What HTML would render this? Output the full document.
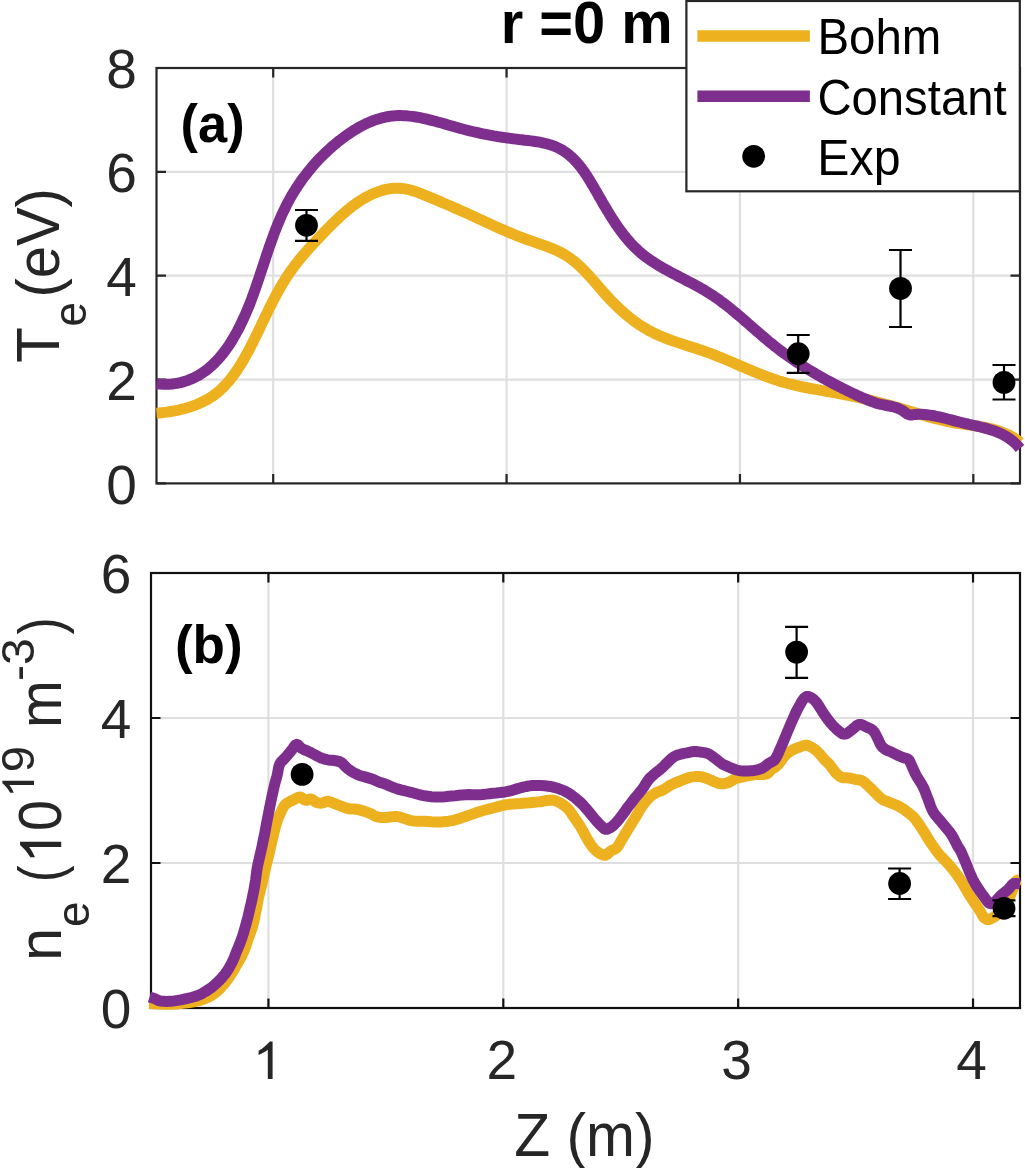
<!DOCTYPE html><html><head><meta charset="utf-8"><style>html,body{margin:0;padding:0;background:#fff;overflow:hidden}svg{display:block;will-change:transform}</style></head><body>
<svg width="1025" height="1168" viewBox="0 0 1025 1168" font-family="'Liberation Sans', sans-serif">
<rect width="1025" height="1168" fill="#fff"/>
<defs><clipPath id="ca"><rect x="156.5" y="68.0" width="863.5" height="415.4"/></clipPath>
<clipPath id="cb"><rect x="151.0" y="573.0" width="869.0" height="435.0"/></clipPath></defs>
<path d="M273.19,68.00V483.40M506.57,68.00V483.40M739.95,68.00V483.40M973.32,68.00V483.40M156.50,379.55H1020.00M156.50,275.70H1020.00M156.50,171.85H1020.00" stroke="#DFDFDF" stroke-width="2.2" fill="none"/>
<path d="M273.19,483.40v-9.50M273.19,68.00v9.50M506.57,483.40v-9.50M506.57,68.00v9.50M739.95,483.40v-9.50M739.95,68.00v9.50M973.32,483.40v-9.50M973.32,68.00v9.50M156.50,483.40h9.50M1020.00,483.40h-9.50M156.50,379.55h9.50M1020.00,379.55h-9.50M156.50,275.70h9.50M1020.00,275.70h-9.50M156.50,171.85h9.50M1020.00,171.85h-9.50M156.50,68.00h9.50M1020.00,68.00h-9.50" stroke="#262626" stroke-width="2.2" fill="none"/>
<rect x="156.50" y="68.00" width="863.50" height="415.40" stroke="#262626" stroke-width="2.2" fill="none"/>
<text x="136.90" y="503.80" font-size="55" fill="#262626" text-anchor="end">0</text>
<text x="136.90" y="399.95" font-size="55" fill="#262626" text-anchor="end">2</text>
<text x="136.90" y="296.10" font-size="55" fill="#262626" text-anchor="end">4</text>
<text x="136.90" y="192.25" font-size="55" fill="#262626" text-anchor="end">6</text>
<text x="136.90" y="88.40" font-size="55" fill="#262626" text-anchor="end">8</text>
<g fill="none" stroke-width="11" stroke-linejoin="round" stroke-linecap="butt">
<polyline points="156.5,413.2 159.1,413.0 161.6,412.7 164.2,412.4 166.8,412.1 169.4,411.7 171.9,411.3 174.5,410.8 177.1,410.3 179.6,409.8 182.2,409.1 184.7,408.5 187.2,407.8 189.7,407.0 192.2,406.2 194.6,405.3 197.0,404.4 199.4,403.4 201.7,402.3 204.0,401.2 206.3,400.0 208.5,398.7 210.6,397.4 212.8,396.0 214.8,394.5 216.8,393.0 218.8,391.4 220.6,389.7 222.5,388.0 224.3,386.2 226.0,384.3 227.7,382.4 229.4,380.5 231.0,378.5 232.6,376.4 234.1,374.4 235.6,372.3 237.1,370.1 238.5,367.9 239.9,365.7 241.3,363.5 242.6,361.2 244.0,359.0 245.2,356.7 246.5,354.4 247.8,352.1 249.0,349.8 250.2,347.5 251.4,345.2 252.6,342.8 253.8,340.5 254.9,338.2 256.1,335.8 257.2,333.5 258.3,331.2 259.5,328.8 260.6,326.5 261.7,324.2 262.8,321.8 263.9,319.5 265.0,317.1 266.2,314.8 267.3,312.5 268.4,310.2 269.5,307.9 270.7,305.6 271.8,303.3 273.0,301.0 274.2,298.7 275.4,296.4 276.6,294.2 277.8,291.9 279.1,289.7 280.3,287.5 281.6,285.2 282.9,283.0 284.3,280.9 285.6,278.7 287.0,276.5 288.5,274.4 289.9,272.3 291.4,270.2 292.9,268.1 294.4,266.0 296.0,264.0 297.6,261.9 299.2,259.9 300.9,257.9 302.5,255.9 304.2,253.9 305.9,252.0 307.6,250.0 309.3,248.1 311.1,246.1 312.9,244.2 314.6,242.3 316.4,240.4 318.2,238.5 320.0,236.6 321.8,234.7 323.6,232.9 325.4,231.0 327.2,229.1 329.0,227.3 330.9,225.5 332.7,223.6 334.5,221.8 336.4,220.0 338.3,218.3 340.1,216.5 342.0,214.8 344.0,213.1 345.9,211.4 347.9,209.7 349.9,208.1 351.9,206.5 354.0,205.0 356.1,203.5 358.2,202.0 360.4,200.6 362.6,199.2 364.9,197.9 367.2,196.6 369.5,195.4 371.9,194.3 374.2,193.2 376.6,192.3 379.1,191.4 381.5,190.6 384.0,189.9 386.5,189.3 389.0,188.8 391.5,188.5 394.0,188.3 396.5,188.2 399.0,188.2 401.5,188.4 404.0,188.7 406.5,189.2 409.0,189.7 411.5,190.4 414.0,191.1 416.5,191.9 419.0,192.8 421.5,193.8 423.9,194.8 426.4,195.8 428.8,196.8 431.3,197.8 433.7,198.8 436.1,199.9 438.5,200.9 440.9,201.9 443.3,203.0 445.7,204.0 448.1,205.0 450.5,206.0 452.8,207.1 455.2,208.1 457.5,209.1 459.9,210.2 462.2,211.2 464.6,212.3 466.9,213.3 469.2,214.4 471.5,215.5 473.9,216.5 476.2,217.6 478.5,218.7 480.8,219.7 483.1,220.8 485.5,221.9 487.8,223.0 490.1,224.0 492.4,225.1 494.8,226.2 497.1,227.2 499.4,228.3 501.8,229.3 504.2,230.3 506.5,231.4 508.9,232.4 511.3,233.4 513.7,234.4 516.1,235.3 518.5,236.3 520.9,237.2 523.4,238.2 525.8,239.1 528.3,240.0 530.8,240.8 533.3,241.7 535.8,242.6 538.3,243.4 540.8,244.3 543.3,245.2 545.8,246.1 548.3,247.0 550.7,248.0 553.1,248.9 555.5,250.0 557.9,251.1 560.2,252.2 562.4,253.4 564.7,254.6 566.8,256.0 569.0,257.4 571.0,258.9 573.0,260.4 575.0,262.0 577.0,263.6 578.9,265.3 580.7,267.1 582.6,268.9 584.4,270.7 586.2,272.6 587.9,274.5 589.7,276.4 591.4,278.3 593.1,280.3 594.9,282.2 596.6,284.2 598.3,286.2 600.0,288.2 601.7,290.1 603.4,292.1 605.1,294.0 606.9,296.0 608.7,297.9 610.4,299.8 612.2,301.6 614.0,303.5 615.9,305.3 617.7,307.1 619.6,308.9 621.5,310.6 623.4,312.3 625.3,314.0 627.3,315.6 629.2,317.2 631.2,318.8 633.2,320.4 635.3,321.9 637.4,323.3 639.4,324.8 641.6,326.2 643.7,327.5 645.9,328.8 648.1,330.1 650.3,331.3 652.6,332.4 654.9,333.6 657.2,334.6 659.5,335.7 661.9,336.7 664.3,337.6 666.7,338.6 669.1,339.5 671.5,340.4 674.0,341.2 676.5,342.1 678.9,342.9 681.4,343.7 683.9,344.6 686.4,345.4 688.9,346.2 691.4,347.0 693.9,347.8 696.4,348.6 698.9,349.4 701.4,350.2 703.8,351.1 706.3,351.9 708.7,352.8 711.2,353.7 713.6,354.6 716.0,355.6 718.4,356.6 720.8,357.5 723.2,358.5 725.6,359.5 728.0,360.5 730.4,361.5 732.8,362.5 735.1,363.6 737.5,364.6 739.8,365.6 742.2,366.6 744.6,367.6 746.9,368.7 749.3,369.7 751.7,370.7 754.0,371.7 756.4,372.6 758.8,373.6 761.2,374.5 763.5,375.5 765.9,376.4 768.3,377.3 770.7,378.1 773.2,379.0 775.6,379.8 778.0,380.6 780.5,381.4 783.0,382.1 785.4,382.8 787.9,383.5 790.4,384.1 792.9,384.7 795.5,385.3 798.0,385.9 800.5,386.5 803.1,387.0 805.6,387.5 808.2,388.0 810.8,388.5 813.3,389.0 815.9,389.4 818.5,389.9 821.1,390.4 823.7,390.8 826.2,391.3 828.8,391.7 831.4,392.2 834.0,392.6 836.5,393.1 839.1,393.6 841.7,394.0 844.2,394.5 846.8,395.0 849.3,395.6 851.8,396.1 854.4,396.6 856.9,397.2 859.4,397.7 861.9,398.3 864.4,398.9 867.0,399.5 869.5,400.1 872.0,400.7 874.5,401.4 877.0,402.0 879.4,402.6 881.9,403.3 884.4,404.0 886.9,404.6 889.4,405.3 891.9,406.0 894.4,406.7 896.8,407.4 899.3,408.1 901.8,408.9 904.3,409.6 906.7,410.3 909.2,411.1 911.7,411.8 914.2,412.5 916.7,413.3 919.1,414.0 921.6,414.8 924.1,415.5 926.6,416.2 929.1,416.9 931.6,417.6 934.1,418.3 936.6,418.9 939.1,419.5 941.7,420.1 944.2,420.7 946.8,421.3 949.3,421.8 951.9,422.3 954.4,422.8 957.0,423.2 959.6,423.6 962.2,424.0 964.8,424.4 967.3,424.7 969.9,425.1 972.5,425.4 975.1,425.8 977.7,426.2 980.2,426.6 982.8,427.0 985.3,427.5 987.8,428.0 990.3,428.6 992.8,429.2 995.2,429.8 997.6,430.6 1000.0,431.3 1002.4,432.2 1004.7,433.2 1007.0,434.2 1009.3,435.3 1011.5,436.5 1013.7,437.8 1015.9,439.3 1018.0,440.8 1020.0,442.5" stroke="#EDB120"/>
<polyline points="156.5,383.8 159.7,384.1 162.9,384.2 165.9,384.3 169.0,384.2 171.9,384.0 174.8,383.6 177.6,383.2 180.4,382.6 183.1,381.9 185.7,381.1 188.3,380.2 190.9,379.2 193.3,378.1 195.7,376.9 198.1,375.7 200.4,374.3 202.6,372.8 204.8,371.3 207.0,369.7 209.1,368.0 211.1,366.2 213.1,364.4 215.0,362.5 216.9,360.5 218.8,358.5 220.6,356.4 222.3,354.3 224.0,352.1 225.7,349.9 227.3,347.6 228.9,345.3 230.5,342.9 232.0,340.5 233.4,338.1 234.8,335.6 236.2,333.1 237.6,330.6 238.9,328.1 240.2,325.6 241.4,323.0 242.6,320.5 243.8,317.9 245.0,315.3 246.1,312.7 247.2,310.1 248.3,307.5 249.4,304.8 250.4,302.2 251.4,299.6 252.4,296.9 253.4,294.3 254.3,291.6 255.3,288.9 256.2,286.3 257.1,283.6 258.0,280.9 259.0,278.2 259.8,275.5 260.7,272.9 261.6,270.2 262.5,267.5 263.4,264.8 264.3,262.1 265.2,259.5 266.0,256.8 266.9,254.1 267.8,251.4 268.7,248.8 269.6,246.1 270.6,243.5 271.5,240.8 272.5,238.2 273.4,235.5 274.4,232.9 275.4,230.3 276.4,227.7 277.4,225.1 278.5,222.5 279.6,220.0 280.7,217.4 281.8,214.9 283.0,212.3 284.2,209.8 285.4,207.3 286.6,204.8 287.9,202.4 289.3,199.9 290.6,197.5 292.0,195.1 293.4,192.7 294.9,190.3 296.4,188.0 297.9,185.6 299.5,183.3 301.1,181.0 302.7,178.7 304.4,176.5 306.1,174.3 307.8,172.1 309.6,169.9 311.4,167.7 313.2,165.6 315.0,163.5 316.9,161.4 318.9,159.3 320.8,157.3 322.8,155.3 324.8,153.3 326.9,151.4 329.0,149.5 331.1,147.6 333.2,145.7 335.4,143.9 337.6,142.1 339.8,140.3 342.1,138.6 344.4,136.9 346.7,135.2 349.1,133.6 351.4,132.0 353.8,130.4 356.3,129.0 358.7,127.5 361.2,126.2 363.7,124.9 366.2,123.6 368.8,122.5 371.4,121.4 373.9,120.4 376.5,119.5 379.2,118.7 381.8,117.9 384.5,117.3 387.2,116.7 389.9,116.3 392.6,115.9 395.3,115.7 398.0,115.6 400.8,115.6 403.5,115.7 406.3,115.8 409.1,116.1 411.9,116.4 414.6,116.8 417.4,117.2 420.2,117.7 423.0,118.3 425.8,118.9 428.6,119.6 431.4,120.3 434.2,121.0 437.0,121.8 439.8,122.5 442.6,123.3 445.4,124.1 448.1,124.9 450.9,125.7 453.6,126.5 456.3,127.3 459.0,128.1 461.7,128.8 464.4,129.5 467.1,130.2 469.8,130.9 472.4,131.5 475.1,132.1 477.7,132.7 480.4,133.3 483.0,133.9 485.7,134.4 488.3,134.9 491.0,135.4 493.7,135.9 496.4,136.3 499.1,136.8 501.9,137.2 504.7,137.6 507.4,138.0 510.3,138.4 513.1,138.8 516.0,139.1 518.9,139.5 521.8,139.8 524.8,140.2 527.8,140.5 530.8,140.9 533.7,141.3 536.7,141.7 539.6,142.2 542.5,142.8 545.4,143.5 548.2,144.2 550.9,145.0 553.5,145.9 556.1,146.9 558.6,148.1 561.0,149.3 563.3,150.7 565.5,152.2 567.6,153.7 569.7,155.4 571.6,157.2 573.6,159.0 575.4,160.9 577.2,162.9 579.0,165.0 580.7,167.1 582.3,169.3 584.0,171.6 585.5,173.9 587.1,176.2 588.6,178.6 590.1,181.0 591.5,183.4 593.0,185.9 594.4,188.4 595.9,190.8 597.3,193.3 598.7,195.8 600.2,198.3 601.6,200.8 603.0,203.3 604.5,205.8 606.0,208.2 607.4,210.7 608.9,213.1 610.4,215.6 611.9,218.0 613.5,220.4 615.0,222.7 616.6,225.1 618.2,227.4 619.9,229.7 621.5,231.9 623.2,234.1 624.9,236.3 626.7,238.5 628.5,240.6 630.3,242.7 632.2,244.7 634.1,246.7 636.1,248.6 638.1,250.5 640.1,252.3 642.2,254.1 644.4,255.8 646.5,257.5 648.8,259.1 651.1,260.7 653.4,262.2 655.7,263.7 658.1,265.2 660.5,266.6 662.9,268.0 665.4,269.4 667.9,270.7 670.3,272.1 672.8,273.4 675.4,274.7 677.9,276.0 680.4,277.3 683.0,278.6 685.5,280.0 688.0,281.3 690.6,282.6 693.1,283.9 695.6,285.3 698.1,286.6 700.5,288.0 703.0,289.4 705.4,290.8 707.8,292.3 710.2,293.8 712.6,295.3 714.9,296.9 717.2,298.5 719.5,300.1 721.7,301.8 724.0,303.5 726.2,305.2 728.4,306.9 730.5,308.6 732.7,310.4 734.9,312.2 737.0,314.0 739.1,315.8 741.3,317.6 743.4,319.4 745.5,321.3 747.6,323.1 749.7,324.9 751.8,326.8 753.9,328.6 756.0,330.5 758.1,332.3 760.3,334.1 762.4,336.0 764.5,337.8 766.7,339.6 768.8,341.4 771.0,343.2 773.2,344.9 775.3,346.7 777.6,348.4 779.8,350.1 782.0,351.8 784.3,353.4 786.6,355.1 788.9,356.7 791.2,358.3 793.5,359.9 795.8,361.5 798.2,363.0 800.6,364.6 802.9,366.1 805.3,367.6 807.7,369.1 810.1,370.6 812.5,372.0 815.0,373.4 817.4,374.9 819.9,376.3 822.3,377.6 824.8,379.0 827.2,380.4 829.7,381.7 832.2,383.0 834.7,384.3 837.2,385.6 839.7,386.9 842.2,388.2 844.7,389.4 847.2,390.7 849.7,391.9 852.2,393.1 854.8,394.3 857.3,395.5 859.8,396.6 862.4,397.7 865.0,398.8 867.5,399.9 870.1,401.0 872.8,401.9 875.5,402.9 878.2,403.7 880.9,404.4 883.7,404.9 886.5,405.5 889.3,406.0 892.1,406.5 894.8,407.2 897.5,408.1 900.1,409.2 902.5,410.6 904.9,412.3 907.2,413.9 909.7,414.9 912.4,414.9 915.3,414.4 918.2,414.2 921.0,414.2 923.9,414.4 926.7,414.7 929.5,415.1 932.2,415.5 935.0,416.0 937.7,416.6 940.5,417.2 943.2,417.8 945.9,418.5 948.6,419.2 951.3,419.9 954.0,420.6 956.8,421.3 959.5,422.0 962.2,422.7 964.9,423.4 967.7,424.0 970.4,424.7 973.2,425.3 975.9,425.9 978.7,426.5 981.4,427.2 984.1,427.9 986.8,428.6 989.5,429.4 992.1,430.2 994.8,431.1 997.3,432.1 999.9,433.2 1002.3,434.4 1004.8,435.7 1007.2,437.1 1009.5,438.6 1011.7,440.3 1013.9,442.1 1016.0,444.0 1018.1,446.2 1020.0,448.5" stroke="#7E2F8E"/>
</g>
<path d="M306.50,210.00V240.90M295.00,210.00h23M295.00,240.90h23" stroke="#000" stroke-width="2.2" fill="none"/>
<circle cx="306.50" cy="225.30" r="11.4" fill="#000"/>
<path d="M798.20,335.00V372.90M786.70,335.00h23M786.70,372.90h23" stroke="#000" stroke-width="2.2" fill="none"/>
<circle cx="798.20" cy="353.70" r="11.4" fill="#000"/>
<path d="M900.50,250.00V327.00M889.00,250.00h23M889.00,327.00h23" stroke="#000" stroke-width="2.2" fill="none"/>
<circle cx="900.50" cy="288.40" r="11.4" fill="#000"/>
<path d="M1004.00,365.00V399.50M992.50,365.00h23M992.50,399.50h23" stroke="#000" stroke-width="2.2" fill="none"/>
<circle cx="1004.00" cy="382.40" r="11.4" fill="#000"/>
<path d="M268.43,573.00V1008.00M503.30,573.00V1008.00M738.16,573.00V1008.00M973.03,573.00V1008.00M151.00,863.00H1020.00M151.00,718.00H1020.00" stroke="#DFDFDF" stroke-width="2.2" fill="none"/>
<path d="M268.43,1008.00v-9.50M268.43,573.00v9.50M503.30,1008.00v-9.50M503.30,573.00v9.50M738.16,1008.00v-9.50M738.16,573.00v9.50M973.03,1008.00v-9.50M973.03,573.00v9.50M151.00,1008.00h9.50M1020.00,1008.00h-9.50M151.00,863.00h9.50M1020.00,863.00h-9.50M151.00,718.00h9.50M1020.00,718.00h-9.50M151.00,573.00h9.50M1020.00,573.00h-9.50" stroke="#111" stroke-width="2.2" fill="none"/>
<rect x="151.00" y="573.00" width="869.00" height="435.00" stroke="#111" stroke-width="2.2" fill="none"/>
<text x="131.40" y="1028.40" font-size="55" fill="#262626" text-anchor="end">0</text>
<text x="131.40" y="883.40" font-size="55" fill="#262626" text-anchor="end">2</text>
<text x="131.40" y="738.40" font-size="55" fill="#262626" text-anchor="end">4</text>
<text x="131.40" y="593.40" font-size="55" fill="#262626" text-anchor="end">6</text>
<path transform="translate(258.60,1078.90) scale(1.0000)" d="M9.2,0H14V-37.4H11.2C8.7,-34.5 4.5,-30.5 0,-28.1V-23.9C3.5,-25.4 7,-27.4 9.2,-29.2Z" fill="#262626"/>
<text x="501.80" y="1078.90" font-size="55" fill="#262626" text-anchor="middle">2</text>
<text x="736.66" y="1078.90" font-size="55" fill="#262626" text-anchor="middle">3</text>
<text x="971.53" y="1078.90" font-size="55" fill="#262626" text-anchor="middle">4</text>
<g fill="none" stroke-width="11" stroke-linejoin="round" stroke-linecap="butt">
<polyline points="149.0,1003.6 154.2,1003.8 159.4,1004.1 164.6,1004.3 170.0,1004.3 176.3,1003.9 182.9,1003.3 189.3,1002.5 195.0,1001.5 198.5,1000.7 201.8,999.7 204.7,998.7 207.5,997.5 209.6,996.5 211.5,995.4 213.3,994.2 215.0,993.0 216.3,992.0 217.5,990.9 218.7,989.8 220.0,988.5 221.9,986.4 224.0,984.1 226.0,981.6 228.0,979.0 230.1,975.9 232.1,972.7 234.1,969.4 236.0,966.0 238.0,962.6 240.0,959.1 241.9,955.6 243.6,952.0 245.0,948.5 246.2,945.0 247.3,941.5 248.5,938.0 249.7,934.6 250.9,931.3 252.1,928.0 253.1,924.6 253.9,921.2 254.7,917.8 255.3,914.4 256.0,911.0 256.7,907.6 257.3,904.1 257.9,900.7 258.6,897.3 259.4,894.0 260.2,890.8 261.1,887.5 262.0,884.0 263.0,879.6 264.0,874.9 265.0,870.3 266.0,866.0 266.8,862.9 267.5,860.0 268.2,857.1 269.0,854.0 270.0,849.7 271.0,845.2 272.1,840.5 273.2,836.0 274.2,831.8 275.3,827.5 276.4,823.5 277.5,820.0 278.2,818.0 278.9,816.3 279.7,814.7 280.5,813.0 281.5,810.8 282.6,808.5 283.9,806.3 285.4,804.4 287.5,802.8 289.9,801.5 292.4,800.3 294.6,799.3 296.1,798.5 297.4,797.7 298.8,797.1 300.1,796.9 301.5,797.4 302.8,798.5 304.2,799.7 305.6,800.3 306.9,800.2 308.3,799.7 309.7,799.1 311.0,799.0 312.4,799.6 313.7,800.6 315.1,801.6 316.5,802.4 317.9,802.8 319.2,803.1 320.6,803.2 322.0,803.1 323.3,802.7 324.6,802.1 326.0,801.6 327.4,801.3 329.3,801.6 331.4,802.3 333.5,803.2 335.6,804.0 337.7,804.8 339.8,805.7 341.9,806.5 343.8,807.2 345.2,807.7 346.6,808.1 347.9,808.5 349.3,808.8 350.9,809.0 352.7,809.0 354.4,809.0 356.1,809.2 357.8,809.5 359.5,809.9 361.2,810.4 362.9,810.9 364.6,811.4 366.4,812.0 368.1,812.6 369.8,813.3 371.5,814.1 373.2,815.1 374.9,816.0 376.6,816.7 378.3,817.1 380.1,817.4 381.9,817.5 383.7,817.6 385.3,817.5 386.8,817.4 388.4,817.2 390.0,817.0 391.7,816.8 393.5,816.6 395.3,816.4 397.3,816.5 400.4,817.2 403.9,818.4 407.5,819.7 411.0,820.6 414.4,821.0 417.8,821.2 421.2,821.2 424.6,821.3 428.0,821.5 431.4,821.8 434.9,822.0 438.3,822.0 441.7,821.9 445.2,821.6 448.6,821.2 452.0,820.6 455.4,819.8 458.8,818.8 462.2,817.6 465.6,816.5 469.0,815.3 472.4,814.1 475.9,812.8 479.3,811.7 482.7,810.7 486.1,809.8 489.5,808.9 492.9,808.0 496.3,807.1 499.7,806.1 503.2,805.3 506.6,804.6 510.0,804.2 513.3,803.9 516.7,803.7 520.0,803.5 523.2,803.2 526.5,803.0 529.6,802.8 532.5,802.5 534.5,802.3 536.2,802.1 538.0,801.9 540.0,801.7 543.2,801.2 546.7,800.5 550.2,800.1 553.7,800.3 557.3,801.5 560.9,803.4 564.4,805.7 567.3,808.1 569.3,810.2 571.0,812.6 572.5,815.0 574.1,817.4 575.8,819.9 577.6,822.4 579.3,824.9 581.0,827.6 582.7,830.6 584.4,833.8 586.1,836.9 587.8,839.9 589.4,842.5 591.1,845.1 592.8,847.4 594.6,849.5 596.3,851.0 598.1,852.3 599.8,853.4 601.5,854.2 602.6,854.7 603.6,855.1 604.6,855.3 605.6,855.2 606.9,854.5 608.3,853.3 609.6,851.9 611.0,850.8 612.4,850.1 613.8,849.6 615.2,849.0 616.5,848.1 618.0,846.3 619.3,844.1 620.6,841.6 622.0,839.2 623.7,836.5 625.4,833.6 627.1,830.7 628.8,827.9 630.5,825.2 632.2,822.4 633.9,819.7 635.6,817.0 637.3,814.2 638.9,811.3 640.6,808.4 642.4,805.8 644.1,803.6 645.8,801.4 647.5,799.4 649.3,797.6 650.9,796.2 652.6,794.9 654.4,793.8 656.1,792.8 657.8,792.0 659.5,791.4 661.2,790.8 662.9,790.0 664.7,788.9 666.5,787.7 668.2,786.5 669.8,785.5 670.8,784.9 671.7,784.5 672.7,784.1 673.7,783.6 675.3,782.9 677.0,782.2 678.8,781.5 680.5,780.8 682.2,780.1 683.9,779.4 685.6,778.7 687.3,778.1 689.0,777.6 690.7,777.2 692.4,776.9 694.1,776.7 695.8,776.6 697.6,776.5 699.3,776.5 701.0,776.7 702.7,777.1 704.4,777.6 706.1,778.2 707.8,778.8 709.5,779.5 711.2,780.3 712.9,781.1 714.6,781.8 716.3,782.4 718.0,783.1 719.8,783.6 721.5,783.8 723.2,783.8 724.9,783.5 726.6,783.1 728.3,782.5 730.0,781.7 731.7,780.7 733.4,779.7 735.1,778.8 736.7,778.2 738.4,777.8 740.1,777.4 742.0,777.0 745.1,776.3 748.6,775.6 752.2,775.0 755.6,774.5 758.5,774.4 761.4,774.5 764.2,774.5 766.5,774.0 768.0,773.1 769.1,772.0 770.3,770.7 771.5,769.5 773.0,768.4 774.6,767.5 776.1,766.4 777.7,765.1 779.6,762.8 781.5,760.2 783.4,757.4 785.4,755.1 787.2,753.5 789.2,752.1 791.1,750.8 793.1,749.7 795.0,748.8 797.0,747.9 799.0,747.2 800.8,746.6 802.2,746.1 803.5,745.6 804.9,745.3 806.2,745.2 807.7,745.5 809.3,746.1 810.9,746.9 812.4,747.8 813.8,748.7 815.2,749.7 816.5,750.8 817.8,752.0 819.3,753.6 820.8,755.4 822.4,757.2 823.9,759.0 825.4,760.5 827.0,762.0 828.5,763.5 830.0,765.1 831.4,766.9 832.7,768.9 834.1,770.8 835.5,772.5 836.9,773.9 838.4,775.3 839.9,776.4 841.5,777.3 843.1,777.7 844.8,777.8 846.6,777.8 848.3,777.9 850.0,778.2 851.7,778.5 853.4,778.9 855.1,779.3 856.8,779.6 858.6,779.8 860.3,780.2 862.0,780.8 863.8,781.9 865.5,783.2 867.1,784.8 868.8,786.3 870.5,788.0 872.2,789.7 873.9,791.5 875.6,793.2 877.3,794.9 878.9,796.5 880.6,798.1 882.4,799.4 884.1,800.3 885.8,801.0 887.6,801.6 889.3,802.3 891.0,803.0 892.7,803.6 894.4,804.3 896.1,805.0 897.8,805.8 899.5,806.7 901.2,807.7 902.9,808.7 904.7,809.9 906.5,811.3 908.2,812.6 909.8,813.9 910.9,814.8 912.0,815.6 913.0,816.5 914.1,817.6 916.0,820.0 918.1,823.0 920.3,826.2 922.3,829.3 924.2,832.2 926.0,835.2 927.7,838.1 929.6,841.0 931.6,844.0 933.7,847.1 935.8,850.0 937.8,852.7 939.4,854.6 940.9,856.3 942.5,857.9 944.0,859.5 945.5,861.1 946.9,862.6 948.4,864.1 950.0,865.9 952.3,868.7 954.7,871.8 957.1,875.1 959.5,878.5 961.9,882.2 964.1,886.1 966.4,890.0 968.7,893.9 971.1,897.6 973.6,901.4 976.1,905.0 978.5,908.5 980.5,911.8 982.3,915.2 984.3,918.0 986.6,919.5 989.3,919.4 992.2,918.1 995.3,916.2 998.0,914.0 1000.9,911.1 1003.5,907.5 1005.9,903.6 1008.0,900.0 1009.5,897.2 1010.8,894.4 1011.9,891.6 1013.0,889.0 1013.8,886.8 1014.4,884.5 1015.1,882.5 1016.0,881.0 1016.9,880.4 1017.9,880.1 1019.0,879.9 1020.0,879.6" stroke="#EDB120"/>
<polyline points="149.5,997.0 150.8,997.4 152.1,997.8 153.4,998.2 154.6,998.6 155.7,999.1 156.7,999.7 157.7,1000.2 158.7,1000.6 159.6,1000.8 160.5,1001.0 161.4,1001.1 162.5,1001.2 164.4,1001.3 166.6,1001.4 168.9,1001.3 171.3,1001.2 174.3,1000.9 177.5,1000.4 180.8,999.8 184.1,999.1 187.6,998.3 191.2,997.5 194.7,996.5 197.8,995.5 199.8,994.7 201.6,993.8 203.2,992.8 205.0,991.8 207.1,990.5 209.1,989.2 211.3,987.7 213.4,986.0 216.3,983.4 219.3,980.5 222.2,977.4 224.8,974.3 226.8,971.5 228.7,968.5 230.3,965.6 231.9,962.6 233.3,959.7 234.5,956.8 235.6,953.9 236.8,950.9 238.1,947.8 239.4,944.7 240.6,941.5 241.8,938.3 242.9,934.9 244.0,931.5 244.9,928.0 245.9,924.6 246.8,921.2 247.7,917.8 248.5,914.4 249.3,911.0 250.1,907.6 250.9,904.2 251.7,900.7 252.4,897.3 253.1,893.9 253.8,890.6 254.4,887.2 255.0,883.7 255.6,879.8 256.1,875.9 256.6,871.9 257.2,868.0 257.9,864.5 258.7,861.1 259.5,857.6 260.3,854.0 261.3,849.7 262.3,845.1 263.2,840.6 264.2,836.0 265.1,831.5 265.9,827.0 266.7,822.5 267.6,818.0 268.5,813.5 269.4,808.9 270.3,804.4 271.2,800.0 272.0,796.1 272.9,792.2 273.7,788.4 274.5,785.0 275.1,782.7 275.7,780.6 276.3,778.5 276.9,776.3 277.6,773.1 278.2,769.7 278.9,766.3 280.0,763.5 281.1,761.9 282.4,760.6 283.7,759.4 285.1,758.0 286.8,756.0 288.5,753.9 290.3,751.8 291.9,749.8 293.1,748.1 294.3,746.3 295.5,744.9 296.7,744.3 297.8,744.7 299.0,745.9 300.2,747.3 301.5,748.4 303.1,749.2 304.8,750.0 306.6,750.7 308.3,751.4 310.0,752.2 311.7,753.1 313.4,754.0 315.1,754.9 316.8,755.8 318.5,756.7 320.3,757.6 322.0,758.3 323.7,758.9 325.4,759.3 327.1,759.7 328.8,760.0 330.5,760.2 332.2,760.3 334.0,760.5 335.6,760.7 337.0,761.0 338.4,761.3 339.8,761.8 341.1,762.4 342.5,763.5 343.8,764.8 345.1,766.3 346.5,767.6 347.8,768.7 349.2,769.8 350.6,770.8 352.0,771.7 353.6,772.6 355.3,773.5 357.1,774.4 358.8,775.1 360.5,775.7 362.2,776.2 364.0,776.6 365.7,777.1 367.4,777.6 369.1,778.1 370.8,778.6 372.5,779.2 374.2,779.9 376.0,780.7 377.7,781.5 379.3,782.2 380.4,782.6 381.4,782.8 382.5,783.1 383.7,783.5 386.6,784.6 390.0,786.1 393.7,787.6 397.3,788.9 400.7,789.9 404.1,790.7 407.6,791.5 411.0,792.3 414.4,793.2 417.8,794.2 421.2,795.1 424.6,795.8 428.0,796.3 431.4,796.7 434.9,797.0 438.3,797.1 441.7,797.0 445.2,796.7 448.6,796.3 452.0,796.0 455.4,795.7 458.8,795.3 462.2,794.9 465.6,794.7 469.0,794.6 472.5,794.7 475.9,794.8 479.3,794.7 482.7,794.5 486.1,794.1 489.5,793.7 492.9,793.3 496.3,793.0 499.8,792.6 503.2,792.3 506.6,791.7 510.0,790.9 513.3,789.9 516.7,788.9 520.0,788.0 523.1,787.2 526.2,786.5 529.3,785.9 532.5,785.5 536.4,785.4 540.6,785.5 544.6,785.8 548.2,786.2 550.4,786.5 552.4,786.9 554.3,787.4 556.4,788.0 559.0,788.8 561.7,789.8 564.5,791.0 567.3,792.4 570.8,794.7 574.5,797.4 577.9,800.3 581.0,803.0 582.9,804.9 584.6,806.8 586.2,808.6 587.8,810.5 589.5,812.5 591.2,814.6 592.9,816.7 594.6,818.7 596.3,820.7 598.1,822.7 599.9,824.6 601.5,826.2 602.5,827.2 603.5,828.2 604.5,828.9 605.6,829.3 606.9,829.2 608.3,828.7 609.7,828.0 611.0,827.2 612.4,826.2 613.8,825.0 615.2,823.6 616.5,822.2 617.9,820.6 619.3,818.9 620.6,817.1 622.0,815.3 623.7,813.1 625.4,810.7 627.1,808.3 628.8,806.0 630.5,803.8 632.2,801.6 633.9,799.4 635.6,797.2 637.3,795.2 639.0,793.2 640.7,791.1 642.4,789.0 644.1,786.5 645.8,783.7 647.5,781.1 649.3,778.7 651.0,777.0 652.7,775.4 654.4,774.0 656.1,772.6 657.5,771.5 658.8,770.4 660.2,769.4 661.5,768.3 662.8,767.1 664.1,765.8 665.4,764.4 666.8,763.1 668.4,761.5 670.1,759.8 671.9,758.2 673.7,756.9 675.4,756.0 677.0,755.3 678.8,754.7 680.5,754.2 682.2,753.8 683.9,753.4 685.6,753.1 687.3,752.8 689.0,752.4 690.7,752.0 692.4,751.7 694.1,751.5 695.8,751.5 697.5,751.7 699.3,751.9 701.0,752.2 702.7,752.4 704.4,752.6 706.1,753.0 707.8,753.5 709.5,754.4 711.2,755.5 712.9,756.7 714.6,757.9 716.3,759.3 718.0,760.7 719.7,762.1 721.5,763.4 723.2,764.4 724.9,765.2 726.6,766.0 728.3,766.8 730.0,767.5 731.7,768.3 733.4,768.9 735.1,769.5 736.8,770.0 738.5,770.4 740.3,770.7 742.0,770.9 743.7,771.0 745.4,771.0 747.1,771.0 748.8,770.9 750.5,770.8 752.2,770.7 753.9,770.5 755.6,770.2 757.3,769.8 759.0,769.4 760.7,768.8 762.4,768.1 764.2,767.0 765.9,765.7 767.6,764.3 769.3,763.1 770.7,762.4 772.0,761.7 773.3,761.0 774.5,760.0 776.3,757.4 778.0,754.0 779.6,750.3 781.2,746.6 782.9,742.8 784.5,738.9 786.1,735.0 787.7,731.2 789.2,727.7 790.6,724.3 792.1,720.9 793.5,717.7 794.7,715.0 795.9,712.5 797.1,710.0 798.5,707.5 800.2,704.3 802.2,700.9 804.2,698.1 806.4,696.5 808.2,696.5 810.2,697.2 812.2,698.3 814.1,699.8 816.7,702.7 819.2,706.4 821.7,710.5 824.0,714.1 825.9,716.7 827.7,719.2 829.4,721.5 831.2,723.7 832.7,725.4 834.3,727.1 835.9,728.6 837.5,730.0 839.1,731.4 840.8,732.7 842.5,733.8 844.2,734.2 845.9,733.9 847.6,732.9 849.3,731.7 851.0,730.5 853.0,728.9 855.1,727.0 857.1,725.3 859.2,724.4 861.0,724.5 862.9,725.2 864.7,726.1 866.5,727.0 868.2,727.8 869.9,728.5 871.5,729.4 873.0,730.6 874.4,732.2 875.5,734.2 876.6,736.3 877.6,738.3 878.6,740.3 879.5,742.4 880.4,744.3 881.5,746.0 882.5,747.2 883.6,748.1 884.8,749.0 886.0,749.8 887.2,750.4 888.4,750.9 889.7,751.4 891.0,751.9 892.8,752.8 894.8,753.8 896.8,754.8 898.7,755.7 900.1,756.3 901.4,756.8 902.7,757.3 904.0,757.8 905.2,758.2 906.3,758.4 907.4,758.8 908.4,759.5 909.6,761.0 910.6,763.1 911.6,765.4 912.5,767.5 913.4,769.4 914.2,771.2 915.0,773.0 916.0,775.0 917.6,777.7 919.4,780.6 921.3,783.6 923.0,786.6 924.5,789.9 925.8,793.3 927.1,796.7 928.4,800.0 929.5,803.0 930.5,806.0 931.7,808.9 933.1,811.7 935.1,814.7 937.5,817.6 940.1,820.5 942.5,823.4 944.9,826.3 947.3,829.2 949.7,832.1 951.8,835.1 953.6,838.2 955.2,841.4 956.7,844.4 958.0,846.8 958.6,847.7 959.1,848.4 959.6,849.1 960.2,850.0 961.6,852.9 963.2,856.6 964.9,860.7 966.5,864.6 968.0,868.3 969.5,872.1 971.1,875.8 972.7,879.3 974.3,882.2 975.9,885.0 977.6,887.7 979.3,890.2 980.7,892.3 982.2,894.3 983.6,896.2 985.0,898.0 986.1,899.6 987.2,901.2 988.3,902.5 989.5,903.4 990.3,903.7 991.2,903.7 992.1,903.5 993.0,903.2 994.9,901.8 997.0,899.7 999.1,897.3 1001.2,895.1 1003.1,893.5 1005.0,892.0 1006.8,890.6 1008.5,889.1 1009.8,887.6 1011.0,886.1 1012.1,884.7 1013.5,883.7 1015.0,883.4 1016.6,883.4 1018.3,883.6 1020.0,883.7" stroke="#7E2F8E"/>
</g>
<circle cx="302.1" cy="774.4" r="11.4" fill="#000"/>
<path d="M796.60,626.90V677.80M785.10,626.90h23M785.10,677.80h23" stroke="#000" stroke-width="2.2" fill="none"/>
<circle cx="796.60" cy="652.10" r="11.4" fill="#000"/>
<path d="M899.60,868.50V899.00M888.10,868.50h23M888.10,899.00h23" stroke="#000" stroke-width="2.2" fill="none"/>
<circle cx="899.60" cy="883.50" r="11.4" fill="#000"/>
<path d="M1004.00,900.40V916.20M992.50,900.40h23M992.50,916.20h23" stroke="#000" stroke-width="2.2" fill="none"/>
<circle cx="1004.00" cy="908.30" r="11.4" fill="#000"/>
<text transform="translate(180.59,141.50) scale(0.9883,1)" font-size="53.00" font-weight="bold" fill="#000">(a)</text>
<text transform="translate(174.96,663.00) scale(1.0001,1)" font-size="53.00" font-weight="bold" fill="#000">(b)</text>
<text transform="translate(500.79,43.40) scale(0.9633,1)" font-size="60.00" font-weight="bold" fill="#000">r =0 m</text>
<rect x="686.4" y="1" width="333.4" height="190.3" fill="#fff" stroke="#262626" stroke-width="2.2"/>
<path d="M697.4,36H809.9" stroke="#EDB120" stroke-width="11.5"/>
<path d="M697.4,96.3H809.9" stroke="#7E2F8E" stroke-width="11.5"/>
<circle cx="753.7" cy="156.3" r="11.4" fill="#000"/>
<text transform="translate(817.41,54.10) scale(0.9591,1)" font-size="49.50" fill="#000">Bohm</text>
<text transform="translate(817.40,114.70) scale(0.9552,1)" font-size="49.50" fill="#000">Constant</text>
<text transform="translate(817.34,175.20) scale(0.9753,1)" font-size="49.50" fill="#000">Exp</text>
<text transform="translate(514.33,1155.90) scale(0.9713,1)" font-size="60.50" fill="#262626">Z (m)</text>
<text transform="translate(58.70,0) rotate(-90) translate(-362.71,0) scale(0.9617,1)" font-size="60.50" fill="#262626">T</text>
<text transform="translate(86.20,0) rotate(-90) translate(-326.47,0) scale(0.9590,1)" font-size="46.00" fill="#262626">e</text>
<text transform="translate(58.70,0) rotate(-90) translate(-297.59,0) scale(0.9579,1)" font-size="60.50" fill="#262626">(eV)</text>
<text transform="translate(61.20,0) rotate(-90) translate(-960.97,0) scale(0.9883,1)" font-size="60.50" fill="#262626">n</text>
<text transform="translate(89.20,0) rotate(-90) translate(-926.96,0) scale(1.0007,1)" font-size="46.00" fill="#262626">e</text>
<text transform="translate(61.20,0) rotate(-90) translate(-881.99,0) scale(0.8229,1)" font-size="60.50" fill="#262626">(</text>
<path transform="translate(61.20,857.20) rotate(-90) scale(1.1000)" d="M9.2,0H14V-37.4H11.2C8.7,-34.5 4.5,-30.5 0,-28.1V-23.9C3.5,-25.4 7,-27.4 9.2,-29.2Z" fill="#262626"/>
<text transform="translate(61.20,0) rotate(-90) translate(-830.97,0) scale(0.9163,1)" font-size="60.50" fill="#262626">0</text>
<path transform="translate(34.00,792.70) rotate(-90) scale(0.8455)" d="M9.2,0H14V-37.4H11.2C8.7,-34.5 4.5,-30.5 0,-28.1V-23.9C3.5,-25.4 7,-27.4 9.2,-29.2Z" fill="#262626"/>
<text transform="translate(34.00,0) rotate(-90) translate(-772.22,0) scale(1.0196,1)" font-size="46.50" fill="#262626">9</text>
<text transform="translate(61.20,0) rotate(-90) translate(-727.91,0) scale(0.9483,1)" font-size="60.50" fill="#262626">m</text>
<text transform="translate(34.00,0) rotate(-90) translate(-680.94,0) scale(1.0366,1)" font-size="46.50" fill="#262626">-3</text>
<text transform="translate(61.20,0) rotate(-90) translate(-634.50,0) scale(0.8541,1)" font-size="60.50" fill="#262626">)</text>
</svg></body></html>
